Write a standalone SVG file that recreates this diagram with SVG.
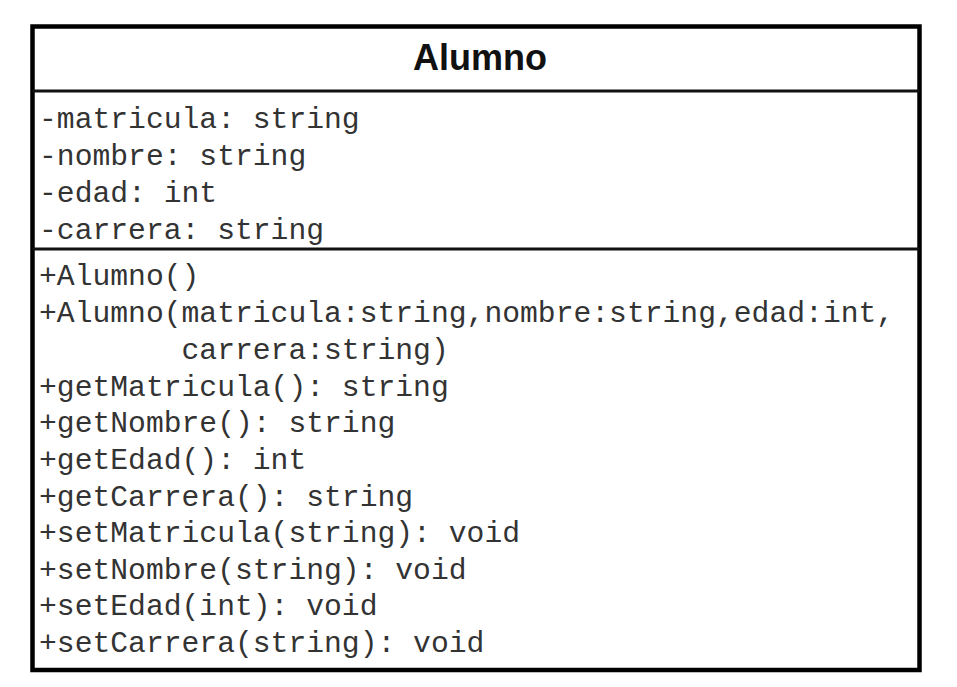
<svg xmlns="http://www.w3.org/2000/svg" width="957" height="687" viewBox="0 0 957 687">
  <style>
    .box { fill: #ffffff; stroke: #000000; stroke-width: 4.5; }
    .div { stroke: #111111; stroke-width: 3; }
    .title { font-family: "Liberation Sans", Arial, sans-serif; font-weight: bold; font-size: 36px; fill: #111111; text-anchor: middle; }
    .mono { font-family: "Liberation Mono", "Courier New", monospace; font-size: 29.7px; fill: #333333; }
  </style>
  <rect width="957" height="687" fill="#ffffff"/>
  <g id="Alumno">
    <rect class="box" x="32.5" y="26.5" width="887" height="643.5"/>
    <line class="div" x1="32.5" y1="91" x2="919.5" y2="91"/>
    <line class="div" x1="32.5" y1="249" x2="919.5" y2="249"/>
    <text class="title" x="480" y="70">Alumno</text>
    <g id="attributes">
      <text class="mono" x="39" y="128">-matricula: string</text>
      <text class="mono" x="39" y="165">-nombre: string</text>
      <text class="mono" x="39" y="202">-edad: int</text>
      <text class="mono" x="39" y="239">-carrera: string</text>
    </g>
    <g id="methods">
      <text class="mono" x="39" y="285">+Alumno()</text>
      <text class="mono" x="39" y="322">+Alumno(matricula:string,nombre:string,edad:int,</text>
      <text class="mono" x="181.5" y="358.5">carrera:string)</text>
      <text class="mono" x="39" y="395.5">+getMatricula(): string</text>
      <text class="mono" x="39" y="432">+getNombre(): string</text>
      <text class="mono" x="39" y="468.5">+getEdad(): int</text>
      <text class="mono" x="39" y="505.5">+getCarrera(): string</text>
      <text class="mono" x="39" y="542">+setMatricula(string): void</text>
      <text class="mono" x="39" y="578.5">+setNombre(string): void</text>
      <text class="mono" x="39" y="615">+setEdad(int): void</text>
      <text class="mono" x="39" y="652">+setCarrera(string): void</text>
    </g>
  </g>
  <g id="connectors"/>
</svg>
